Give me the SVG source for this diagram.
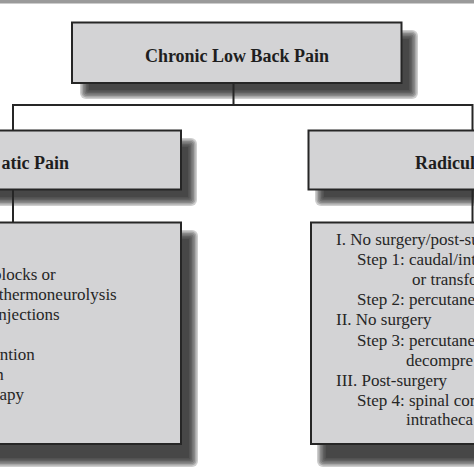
<svg xmlns="http://www.w3.org/2000/svg" width="474" height="474" viewBox="0 0 474 474">
<defs>
<style>
.box{fill:#d3d3d5;stroke:#262626;stroke-width:2}
.conn{stroke:#262626;stroke-width:2;fill:none}
.s rect{fill:#222;fill-opacity:0.22}
.t{font-family:"Liberation Serif",serif;font-weight:bold;font-size:18px;fill:#1e1e1e}
.b{font-family:"Liberation Serif",serif;font-size:17px;fill:#262626}
</style>
</defs>
<rect width="474" height="474" fill="#fff"/>
<rect x="0" y="0" width="474" height="3.5" fill="#9a9a9a"/>

<g id="node-chronic">
<g class="s">
<rect x="80" y="30" width="338" height="69" rx="6"/>
<rect x="81.5" y="31.5" width="335" height="66" rx="5"/>
<rect x="83" y="33" width="332" height="63" rx="4"/>
<rect x="84.5" y="34.5" width="329" height="60" rx="3"/>
<rect x="86" y="36" width="326" height="57" rx="2"/>
<rect x="87.5" y="37.5" width="323" height="54" rx="1"/>
<rect x="89" y="39" width="320" height="51"/>
</g>
<rect class="box" x="72" y="22.5" width="329.5" height="60.5"/>
<text class="t" x="237" y="62" text-anchor="middle">Chronic Low Back Pain</text>
</g>

<g id="node-somatic">
<g class="s">
<rect x="-20" y="138" width="217" height="68" rx="6"/>
<rect x="-20" y="139.5" width="215.5" height="65" rx="5"/>
<rect x="-20" y="141" width="214" height="62" rx="4"/>
<rect x="-20" y="142.5" width="212.5" height="59" rx="3"/>
<rect x="-20" y="144" width="211" height="56" rx="2"/>
<rect x="-20" y="145.5" width="209.5" height="53" rx="1"/>
<rect x="-20" y="147" width="208" height="50"/>
</g>
<rect class="box" x="-10" y="130.5" width="191" height="59"/>
<text class="t" x="69" y="169" text-anchor="end">atic Pain</text>
</g>

<g id="node-radicular">
<g class="s">
<rect x="315" y="138" width="180" height="68" rx="6"/>
<rect x="316.5" y="139.5" width="180" height="65" rx="5"/>
<rect x="318" y="141" width="180" height="62" rx="4"/>
<rect x="319.5" y="142.5" width="180" height="59" rx="3"/>
<rect x="321" y="144" width="180" height="56" rx="2"/>
<rect x="322.5" y="145.5" width="180" height="53" rx="1"/>
<rect x="324" y="147" width="180" height="50"/>
</g>
<rect class="box" x="308.5" y="130.5" width="180" height="59"/>
<text class="t" x="415" y="169">Radicul</text>
</g>

<g id="node-somatic-tx">
<g class="s">
<rect x="-20" y="230" width="218" height="237" rx="6"/>
<rect x="-20" y="231.5" width="216.5" height="234" rx="5"/>
<rect x="-20" y="233" width="215" height="231" rx="4"/>
<rect x="-20" y="234.5" width="213.5" height="228" rx="3"/>
<rect x="-20" y="236" width="212" height="225" rx="2"/>
<rect x="-20" y="237.5" width="210.5" height="222" rx="1"/>
<rect x="-20" y="239" width="209" height="219"/>
</g>
<rect class="box" x="-10" y="222.5" width="191" height="221.5"/>
<text class="b" text-anchor="end">
<tspan x="60" y="280">blocks or</tspan>
<tspan x="121" y="300">thermoneurolysis</tspan>
<tspan x="64" y="320">injections</tspan>
<tspan x="39" y="360">ention</tspan>
<tspan x="8" y="380">n</tspan>
<tspan x="24" y="400">apy</tspan>
</text>
</g>

<g id="node-radicular-tx">
<g class="s">
<rect x="317" y="230" width="180" height="237" rx="6"/>
<rect x="318.5" y="231.5" width="180" height="234" rx="5"/>
<rect x="320" y="233" width="180" height="231" rx="4"/>
<rect x="321.5" y="234.5" width="180" height="228" rx="3"/>
<rect x="323" y="236" width="180" height="225" rx="2"/>
<rect x="324.5" y="237.5" width="180" height="222" rx="1"/>
<rect x="326" y="239" width="180" height="219"/>
</g>
<rect class="box" x="311" y="222.5" width="180" height="221.5"/>
<text class="b">
<tspan x="336" y="245">I. No surgery/post-su</tspan>
<tspan x="357" y="265">Step 1: caudal/int</tspan>
<tspan x="412" y="285">or transfo</tspan>
<tspan x="357" y="305">Step 2: percutane</tspan>
<tspan x="336" y="325">II. No surgery</tspan>
<tspan x="357" y="346">Step 3: percutane</tspan>
<tspan x="406" y="366">decompre</tspan>
<tspan x="336" y="386">III. Post-surgery</tspan>
<tspan x="357" y="406">Step 4: spinal cor</tspan>
<tspan x="406" y="425">intratheca</tspan>
</text>
</g>

<g id="connectors">
<path class="conn" d="M233.5 83.5 V105 M13 130 V105 H472.5 V130 M13 190 V222 M472.5 190 V222"/>
</g>
</svg>
